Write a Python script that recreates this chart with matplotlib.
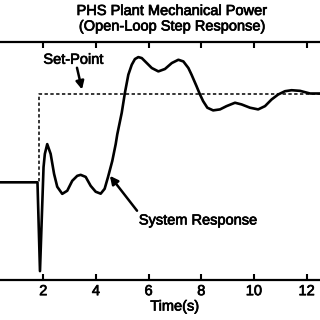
import matplotlib
matplotlib.use("Agg")
import matplotlib.pyplot as plt
import matplotlib.patheffects as pe

# values
t_resp = [0.0, 1.78, 1.875, 1.93, 2.01, 2.06, 2.15, 2.28, 2.41, 2.53, 2.72, 2.91,
          3.10, 3.29, 3.42, 3.61, 3.80, 3.99, 4.18, 4.33, 4.46, 4.62, 4.75, 4.81,
          4.98, 5.10, 5.23, 5.36, 5.48, 5.61, 5.74, 5.93, 6.12, 6.37, 6.62, 6.88,
          7.13, 7.32, 7.51, 7.63, 7.82, 7.95, 8.07, 8.23, 8.45, 8.71, 8.96, 9.28,
          9.53, 9.85, 10.16, 10.42, 10.67, 10.92, 11.18, 11.43, 11.75, 11.94,
          12.13, 12.5]
v_resp = [0.0, 0.0, -1.0, -0.52, 0.17, 0.32, 0.43, 0.32, 0.095, -0.05, -0.13, -0.095,
          0.017, 0.073, 0.084, 0.061, -0.04, -0.106, -0.128, -0.073, 0.061, 0.24, 0.43, 0.54,
          0.784, 1.008, 1.212, 1.324, 1.388, 1.410, 1.399, 1.343, 1.287, 1.249, 1.276, 1.343,
          1.380, 1.361, 1.287, 1.212, 1.082, 0.989, 0.914, 0.840, 0.810, 0.821, 0.858, 0.896,
          0.877, 0.840, 0.821, 0.858, 0.933, 0.989, 1.026, 1.037, 1.030, 1.015,
          1.0, 1.0]

t_set = [0.0, 1.84, 1.84, 12.5]
v_set = [0.0, 0.0, 1.0, 1.0]

xticks = [2, 4, 6, 8, 10, 12]

plt.rcParams['font.family'] = ['Liberation Sans', 'DejaVu Sans']
fs = 10.5
# the scanned original has heavy-looking text
heavy = [pe.withStroke(linewidth=0.5, foreground='black')]

fig = plt.figure(figsize=(3.2, 3.2), dpi=100)
# axes runs a bit past the left and right edges, as in the cropped original
ax = fig.add_axes([-9.4 / 320, 40 / 320, 368.7 / 320, 238 / 320])

ax.plot(t_set, v_set, color='black', lw=1.1, ls=(0, (2.2, 1.6)))
ax.plot(t_resp, v_resp, color='black', lw=1.9, solid_joinstyle='round')

ax.set_xlim(0, 14)
ax.set_ylim(-1.1, 1.58)
ax.set_xticks(xticks)
ax.set_yticks([])
ax.tick_params(axis='x', direction='in', top=True, length=4, width=1.5,
               labelsize=fs, pad=3)
for s in ['left', 'right']:
    ax.spines[s].set_visible(False)
for s in ['top', 'bottom']:
    ax.spines[s].set_linewidth(1.6)
for lab in ax.get_xticklabels():
    lab.set_path_effects(heavy)

ax.set_xlabel('Time(s)', fontsize=fs, labelpad=1, path_effects=heavy)
fig.text(172.5 / 320, 1 - 15 / 320, 'PHS Plant Mechanical Power',
         fontsize=fs, ha='center', va='baseline', path_effects=heavy)
fig.text(172.5 / 320, 1 - 30.5 / 320, '(Open-Loop Step Response)',
         fontsize=fs, ha='center', va='baseline', path_effects=heavy)

ax.text(3.15, 1.38, 'Set-Point', fontsize=fs, ha='center', va='center',
        path_effects=heavy)
ax.annotate('', xy=(3.47, 1.045), xytext=(3.28, 1.29),
            arrowprops=dict(arrowstyle='-|>', color='black', lw=1.8,
                            mutation_scale=12, shrinkA=0, shrinkB=0))
ax.text(7.89, -0.43, 'System Response', fontsize=fs, ha='center', va='center',
        path_effects=heavy)
ax.annotate('', xy=(4.53, 0.073), xytext=(5.56, -0.32),
            arrowprops=dict(arrowstyle='-|>', color='black', lw=1.8,
                            mutation_scale=12, shrinkA=0, shrinkB=0))

fig.savefig('out.png', dpi=100)
